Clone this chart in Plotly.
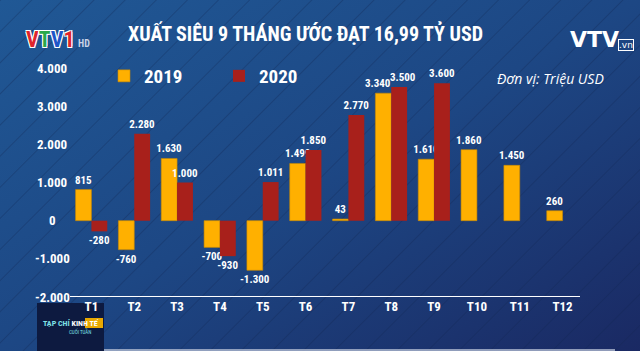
import base64
import plotly.graph_objects as go

# ---- data ----
months = ["T1", "T2", "T3", "T4", "T5", "T6", "T7", "T8", "T9", "T10", "T11", "T12"]
y2019 = [815, -760, 1630, -700, -1300, 1499, 43, 3340, 1610, 1860, 1450, 260]
y2020 = [-280, 2280, 1000, -930, 1011, 1850, 2770, 3500, 3600, None, None, None]
yticks = [-2000, -1000, 0, 1000, 2000, 3000, 4000]
ytick_text = ["-2.000", "-1.000", "0", "1.000", "2.000", "3.000", "4.000"]
title = "XUẤT SIÊU 9 THÁNG ƯỚC ĐẠT 16,99 TỶ USD"
unit = "Đơn vị: Triệu USD"
nudged_month = "T8"  # labels nudged sideways in the original to avoid collision

W, H = 640, 351
ML, MR, MT, MB = 70, 56, 68, 54
PW, PH = W - ML - MR, H - MT - MB

FONT = "Liberation Sans Narrow, Roboto Condensed, DejaVu Sans Condensed, Arial Narrow, sans-serif"
YEL = "#FFB000"
RED = "#A8201B"


def fmt(v):
    if v is None:
        return ""
    return f"{v:,.0f}".replace(",", ".")


# background: blue gradient + diagonal stripes
svg = f"""<svg xmlns='http://www.w3.org/2000/svg' width='{W}' height='{H}' viewBox='0 0 {W} {H}'>
<defs>
<linearGradient id='g' x1='0' y1='0' x2='1' y2='1'>
<stop offset='0' stop-color='#205895'/>
<stop offset='0.5' stop-color='#1d4784'/>
<stop offset='1' stop-color='#1a2963'/>
</linearGradient>
<pattern id='p' width='22' height='22' patternUnits='userSpaceOnUse' patternTransform='rotate(45)'>
<line x1='0' y1='0' x2='0' y2='22' stroke='#10244f' stroke-opacity='0.5' stroke-width='1.2'/>
</pattern>
</defs>
<rect width='{W}' height='{H}' fill='url(#g)'/>
<rect width='{W}' height='{H}' fill='url(#p)'/>
</svg>"""
src = "data:image/svg+xml;base64," + base64.b64encode(svg.encode()).decode()

LABEL_FONT = dict(color="white", size=11, family=FONT, weight="bold")

fig = go.Figure()
for name, vals, col, lw in [("2019", y2019, YEL, 0.6), ("2020", y2020, RED, 0)]:
    fig.add_trace(go.Bar(
        name=name, x=months, y=vals,
        marker=dict(color=col, line=dict(color="#c98a00", width=lw)),
        text=["" if m == nudged_month else fmt(v) for m, v in zip(months, vals)],
        textposition="outside", constraintext="none", cliponaxis=False,
        textfont=LABEL_FONT,
    ))


def px(xp):
    return (xp - ML) / PW


def py(yp):
    return 1 - (yp - MT) / PH


ann = []
# nudged labels for the crowded month
i = months.index(nudged_month)
for vals, xs in [(y2019, -13), (y2020, 12)]:
    ann.append(dict(x=nudged_month, xref="x", y=vals[i], yref="y", text=fmt(vals[i]), showarrow=False,
                    xanchor="center", yanchor="bottom", xshift=xs, yshift=1, font=LABEL_FONT))

for v, t in zip(yticks, ytick_text):
    ann.append(dict(x=px(52), xref="paper", y=v, yref="y", text=f"<b>{t}</b>", showarrow=False,
                    xanchor="center", yanchor="middle", font=dict(color="white", size=13, family=FONT)))
ann.append(dict(x=px(305), xref="paper", y=py(34), yref="paper", text=f"<b>{title}</b>", showarrow=False,
                xanchor="center", yanchor="middle", font=dict(color="white", size=20, family=FONT)))
ann.append(dict(x=px(550), xref="paper", y=py(78), yref="paper", text=f"<i>{unit}</i>", showarrow=False,
                xanchor="center", yanchor="middle", font=dict(color="white", size=14, family="Open Sans, sans-serif")))
# logos
OUTLINE = "1px 1px 0 #ffffff, -1px -1px 0 #ffffff, 1px -1px 0 #ffffff, -1px 1px 0 #ffffff"
ann.append(dict(x=px(50), xref="paper", y=py(40), yref="paper",
                text="<b><span style='color:#e0242c'>V</span><span style='color:#2aa84a'>T</span><span style='color:#1f56c8'>V</span><span style='color:#e0242c'>1</span></b>",
                showarrow=False, xanchor="center", yanchor="middle",
                font=dict(size=22, family=FONT, shadow=OUTLINE)))
ann.append(dict(x=px(84), xref="paper", y=py(43), yref="paper", text="<b>HD</b>", showarrow=False,
                xanchor="center", yanchor="middle", font=dict(color="#c9d3e6", size=10, family=FONT)))
ann.append(dict(x=px(594), xref="paper", y=py(40), yref="paper", text="<b>VTV</b>", showarrow=False,
                xanchor="center", yanchor="middle", font=dict(color="white", size=22, family="DejaVu Sans, sans-serif")))
ann.append(dict(x=px(626), xref="paper", y=py(45), yref="paper", text=".vn", showarrow=False,
                xanchor="center", yanchor="middle", bordercolor="white", borderwidth=1, borderpad=0,
                font=dict(color="white", size=9, family="DejaVu Sans, sans-serif")))
# magazine box
ann.append(dict(x=px(71), xref="paper", y=py(323), yref="paper",
                text="<b><span style='color:#7fe0e8'>TẠP CHÍ </span><span style='color:#ffffff'>KINH TẾ</span></b>",
                showarrow=False, xanchor="center", yanchor="middle", font=dict(size=8, family=FONT)))
ann.append(dict(x=px(80), xref="paper", y=py(331), yref="paper", text="CUỐI TUẦN", showarrow=False,
                xanchor="center", yanchor="middle", font=dict(color="#7fe0e8", size=5, family=FONT)))

shapes = [
    dict(type="rect", xref="paper", yref="paper", x0=px(37), x1=px(104), y0=py(351), y1=py(303),
         fillcolor="#0d1a40", line=dict(width=0), layer="below"),
    dict(type="rect", xref="paper", yref="paper", x0=px(85), x1=px(103), y0=py(328), y1=py(318),
         fillcolor="#e9a800", line=dict(width=0), layer="below"),
    dict(type="line", xref="paper", yref="y", x0=px(70), x1=px(580), y0=-2000, y1=-2000,
         line=dict(color="white", width=2)),
    dict(type="line", xref="paper", yref="paper", x0=px(104), x1=px(615), y0=py(350), y1=py(350),
         line=dict(color="#b9c2d6", width=1.5)),
]

fig.update_layout(
    width=W, height=H, margin=dict(l=ML, r=MR, t=MT, b=MB),
    paper_bgcolor="#1d4784", plot_bgcolor="rgba(0,0,0,0)",
    barmode="group", bargap=0.26, bargroupgap=0.0,
    font=dict(family=FONT, color="white"),
    showlegend=True,
    legend=dict(orientation="h", x=px(104), y=py(57), xanchor="left", yanchor="top",
                entrywidth=70, entrywidthmode="pixels", bgcolor="rgba(0,0,0,0)",
                font=dict(size=19, color="white", family=FONT, weight="bold"), itemclick=False),
    xaxis=dict(showgrid=False, showline=False, zeroline=False, ticks="",
               tickfont=dict(size=13, color="white", family=FONT, weight="bold"), range=[-0.5, 11.5]),
    yaxis=dict(range=[-2000, 4000], showgrid=False, zeroline=False, showticklabels=False,
               tickvals=yticks, ticks=""),
    annotations=ann, shapes=shapes,
    images=[dict(source=src, xref="paper", yref="paper", x=-ML / PW, y=1 + MT / PH,
                 sizex=W / PW, sizey=H / PH, xanchor="left", yanchor="top", sizing="stretch", layer="below")],
)
fig.write_html("out.html")
